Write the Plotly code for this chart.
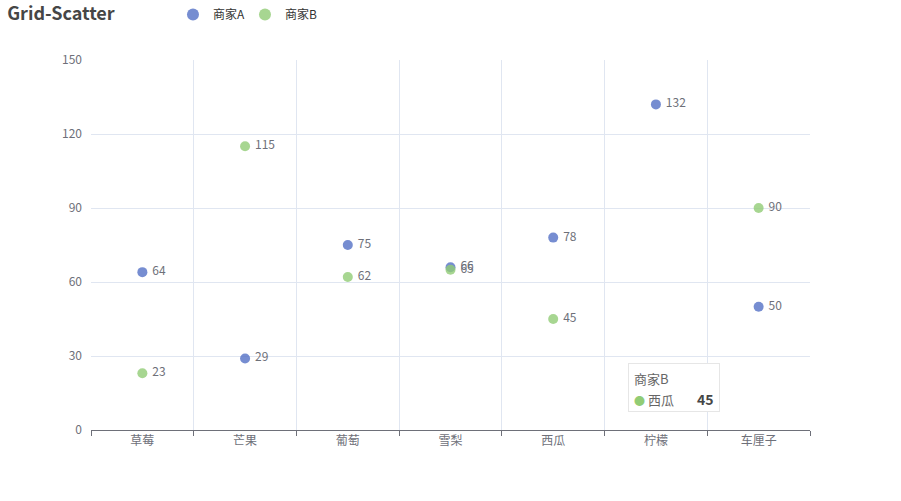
import plotly.graph_objects as go

fruits = ["草莓", "芒果", "葡萄", "雪梨", "西瓜", "柠檬", "车厘子"]
shop_a = [64, 29, 75, 66, 78, 132, 50]
shop_b = [23, 115, 62, 65, 45, None, 90]
y_ticks = [0, 30, 60, 90, 120, 150]

# tooltip shown in the screenshot
tip_series = "商家B"
tip_name = "西瓜"
tip_value = 45

fig = go.Figure()
for name, vals, color in [("商家A", shop_a, "#5470c6"), ("商家B", shop_b, "#91cc75")]:
    fig.add_trace(go.Scatter(
        x=fruits, y=vals, name=name, mode="markers+text",
        marker=dict(size=10, color=color, opacity=0.8),
        text=[("" if v is None else " " + str(v)) for v in vals],
        textposition="middle right",
        textfont=dict(size=12, color="#6e7079"),
        hoverinfo="skip",
    ))

# tooltip box, anchored on the hovered point
tip = dict(x=tip_name, y=tip_value, xref="x", yref="y", showarrow=False)
fig.add_annotation(**tip, text=tip_series, xanchor="left", yanchor="top",
                   xshift=75, yshift=-44, width=80, height=37, align="left", valign="top",
                   font=dict(size=13, color="#666"), bgcolor="white",
                   bordercolor="#e6e6e6", borderwidth=1, borderpad=5)
fig.add_annotation(**tip, text=f"<span style='color:#91cc75;font-size:11px'>●</span> {tip_name}",
                   xanchor="left", yanchor="middle", xshift=79, yshift=-80,
                   font=dict(size=13, color="#666"))
fig.add_annotation(**tip, text=f"<b>{tip_value}</b>", xanchor="right", yanchor="middle",
                   xshift=163, yshift=-80, font=dict(size=14, color="#464646"))

fig.update_layout(
    width=901, height=501,
    margin=dict(l=91, r=91, t=60, b=71),
    paper_bgcolor="white", plot_bgcolor="white",
    font=dict(family="Noto Sans CJK SC", size=12, color="#6e7079"),
    title=dict(text="<b>Grid-Scatter</b>", x=0.008, xanchor="left", y=0.985, yanchor="top",
               font=dict(size=18, color="#464646")),
    legend=dict(orientation="h", xref="container", yref="container", x=0.192, y=1.0,
                xanchor="left", yanchor="top", itemsizing="constant",
                entrywidth=27, font=dict(size=12, color="#333")),
    xaxis=dict(type="category", range=[-0.5, 6.5], tickson="boundaries",
               showgrid=True, gridcolor="#e0e6f1", showline=True, linecolor="#6e7079",
               ticks="outside", ticklen=5, tickcolor="#6e7079", fixedrange=True),
    yaxis=dict(range=[0, 150], tickvals=y_ticks, showgrid=True, gridcolor="#e0e6f1",
               zeroline=False, showline=False, ticks="", ticklabelstandoff=8),
)

fig.write_html("out.html", config={"displayModeBar": False},
               post_script="document.body.style.margin='0';")
